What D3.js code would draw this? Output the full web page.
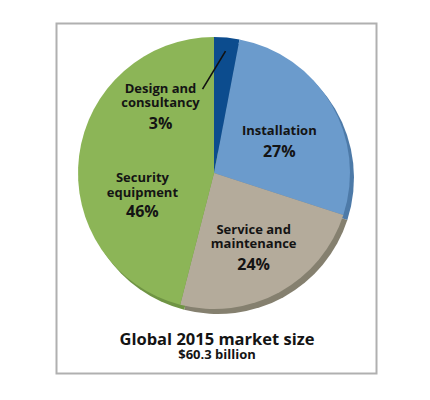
<!DOCTYPE html>
<meta charset="utf-8">
<style>
body { margin: 0; background: #fff; }
text { font-family: "Open Sans", sans-serif; font-weight: bold; fill: #141414; }
</style>
<body>
<script src="https://d3js.org/d3.v7.min.js"></script>
<script>

var width = 430,
    height = 400,
    cx = 214,
    cy = 173,
    radius = 136;

// data
var segments = ["Design and consultancy", "Installation", "Service and maintenance", "Security equipment"];
var shares = [3, 27, 24, 46];
var labelLines = [["Design and", "consultancy"], ["Installation"], ["Service and", "maintenance"], ["Security", "equipment"]];
var colors = ["#0c4c8e", "#6b9bcc", "#b4ab9b", "#8cb557"];
var shadowColors = ["#0a3d72", "#4d7aa8", "#85806f", "#6f9444"];
var title = "Global 2015 market size";
var subtitle = "$60.3 billion";

var svg = d3.select("body").append("svg")
    .attr("width", width)
    .attr("height", height);

// frame
svg.append("rect")
    .attr("x", 56.5)
    .attr("y", 23.5)
    .attr("width", 320)
    .attr("height", 350)
    .attr("fill", "#fff")
    .attr("stroke", "#b0b0b0")
    .attr("stroke-width", 2);

var pie = d3.pie().sort(null).value(function(d) { return d; });
var arcs = pie(shares);

var arc = d3.arc().innerRadius(0).outerRadius(radius);

// drop shadow / rim
svg.append("g")
    .attr("transform", "translate(" + (cx + 4) + "," + (cy + 5) + ")")
  .selectAll("path")
    .data(arcs)
  .enter().append("path")
    .attr("d", arc)
    .attr("fill", function(d, i) { return shadowColors[i]; });

var g = svg.append("g")
    .attr("transform", "translate(" + cx + "," + cy + ")");

g.selectAll("path")
    .data(arcs)
  .enter().append("path")
    .attr("d", arc)
    .attr("fill", function(d, i) { return colors[i]; });

// label positions (centroid of a smaller arc, nudged)
var labelArc = d3.arc().innerRadius(0).outerRadius(radius * 1.15);
var nudge = [[0, 0], [-2, 2], [2, -8], [6, 19]];
var gaps = [[14, 22], [0, 22], [14, 22], [15, 20]];

arcs.forEach(function(d, i) {
  var x, y;
  if (i === 0) {
    // small slice: leader line out to the label
    var inner = d3.arc().innerRadius(radius * 0.9).outerRadius(radius * 0.9).centroid(d);
    var outer = [inner[0] - 23, inner[1] + 38];
    g.append("line")
      .attr("x1", inner[0]).attr("y1", inner[1])
      .attr("x2", outer[0]).attr("y2", outer[1])
      .attr("stroke", "#111")
      .attr("stroke-width", 1.6);
    x = outer[0] - 42;
    y = outer[1] + 3.5;
  } else {
    var c = labelArc.centroid(d);
    x = c[0] + nudge[i][0];
    y = c[1] + nudge[i][1];
  }
  var t = g.append("text").attr("text-anchor", "middle");
  labelLines[i].forEach(function(line, k) {
    t.append("tspan")
      .attr("x", x)
      .attr("y", y + k * gaps[i][0])
      .style("font-size", "13px")
      .text(line);
  });
  g.append("text")
    .attr("text-anchor", "middle")
    .attr("x", x)
    .attr("y", y + (labelLines[i].length - 1) * gaps[i][0] + gaps[i][1])
    .style("font-size", "16px")
    .text(shares[i] + "%");
});

svg.append("text")
    .attr("x", 217)
    .attr("y", 345)
    .attr("text-anchor", "middle")
    .style("font-size", "16.5px")
    .text(title);

svg.append("text")
    .attr("x", 217)
    .attr("y", 359)
    .attr("text-anchor", "middle")
    .style("font-size", "13px")
    .text(subtitle);

</script>
